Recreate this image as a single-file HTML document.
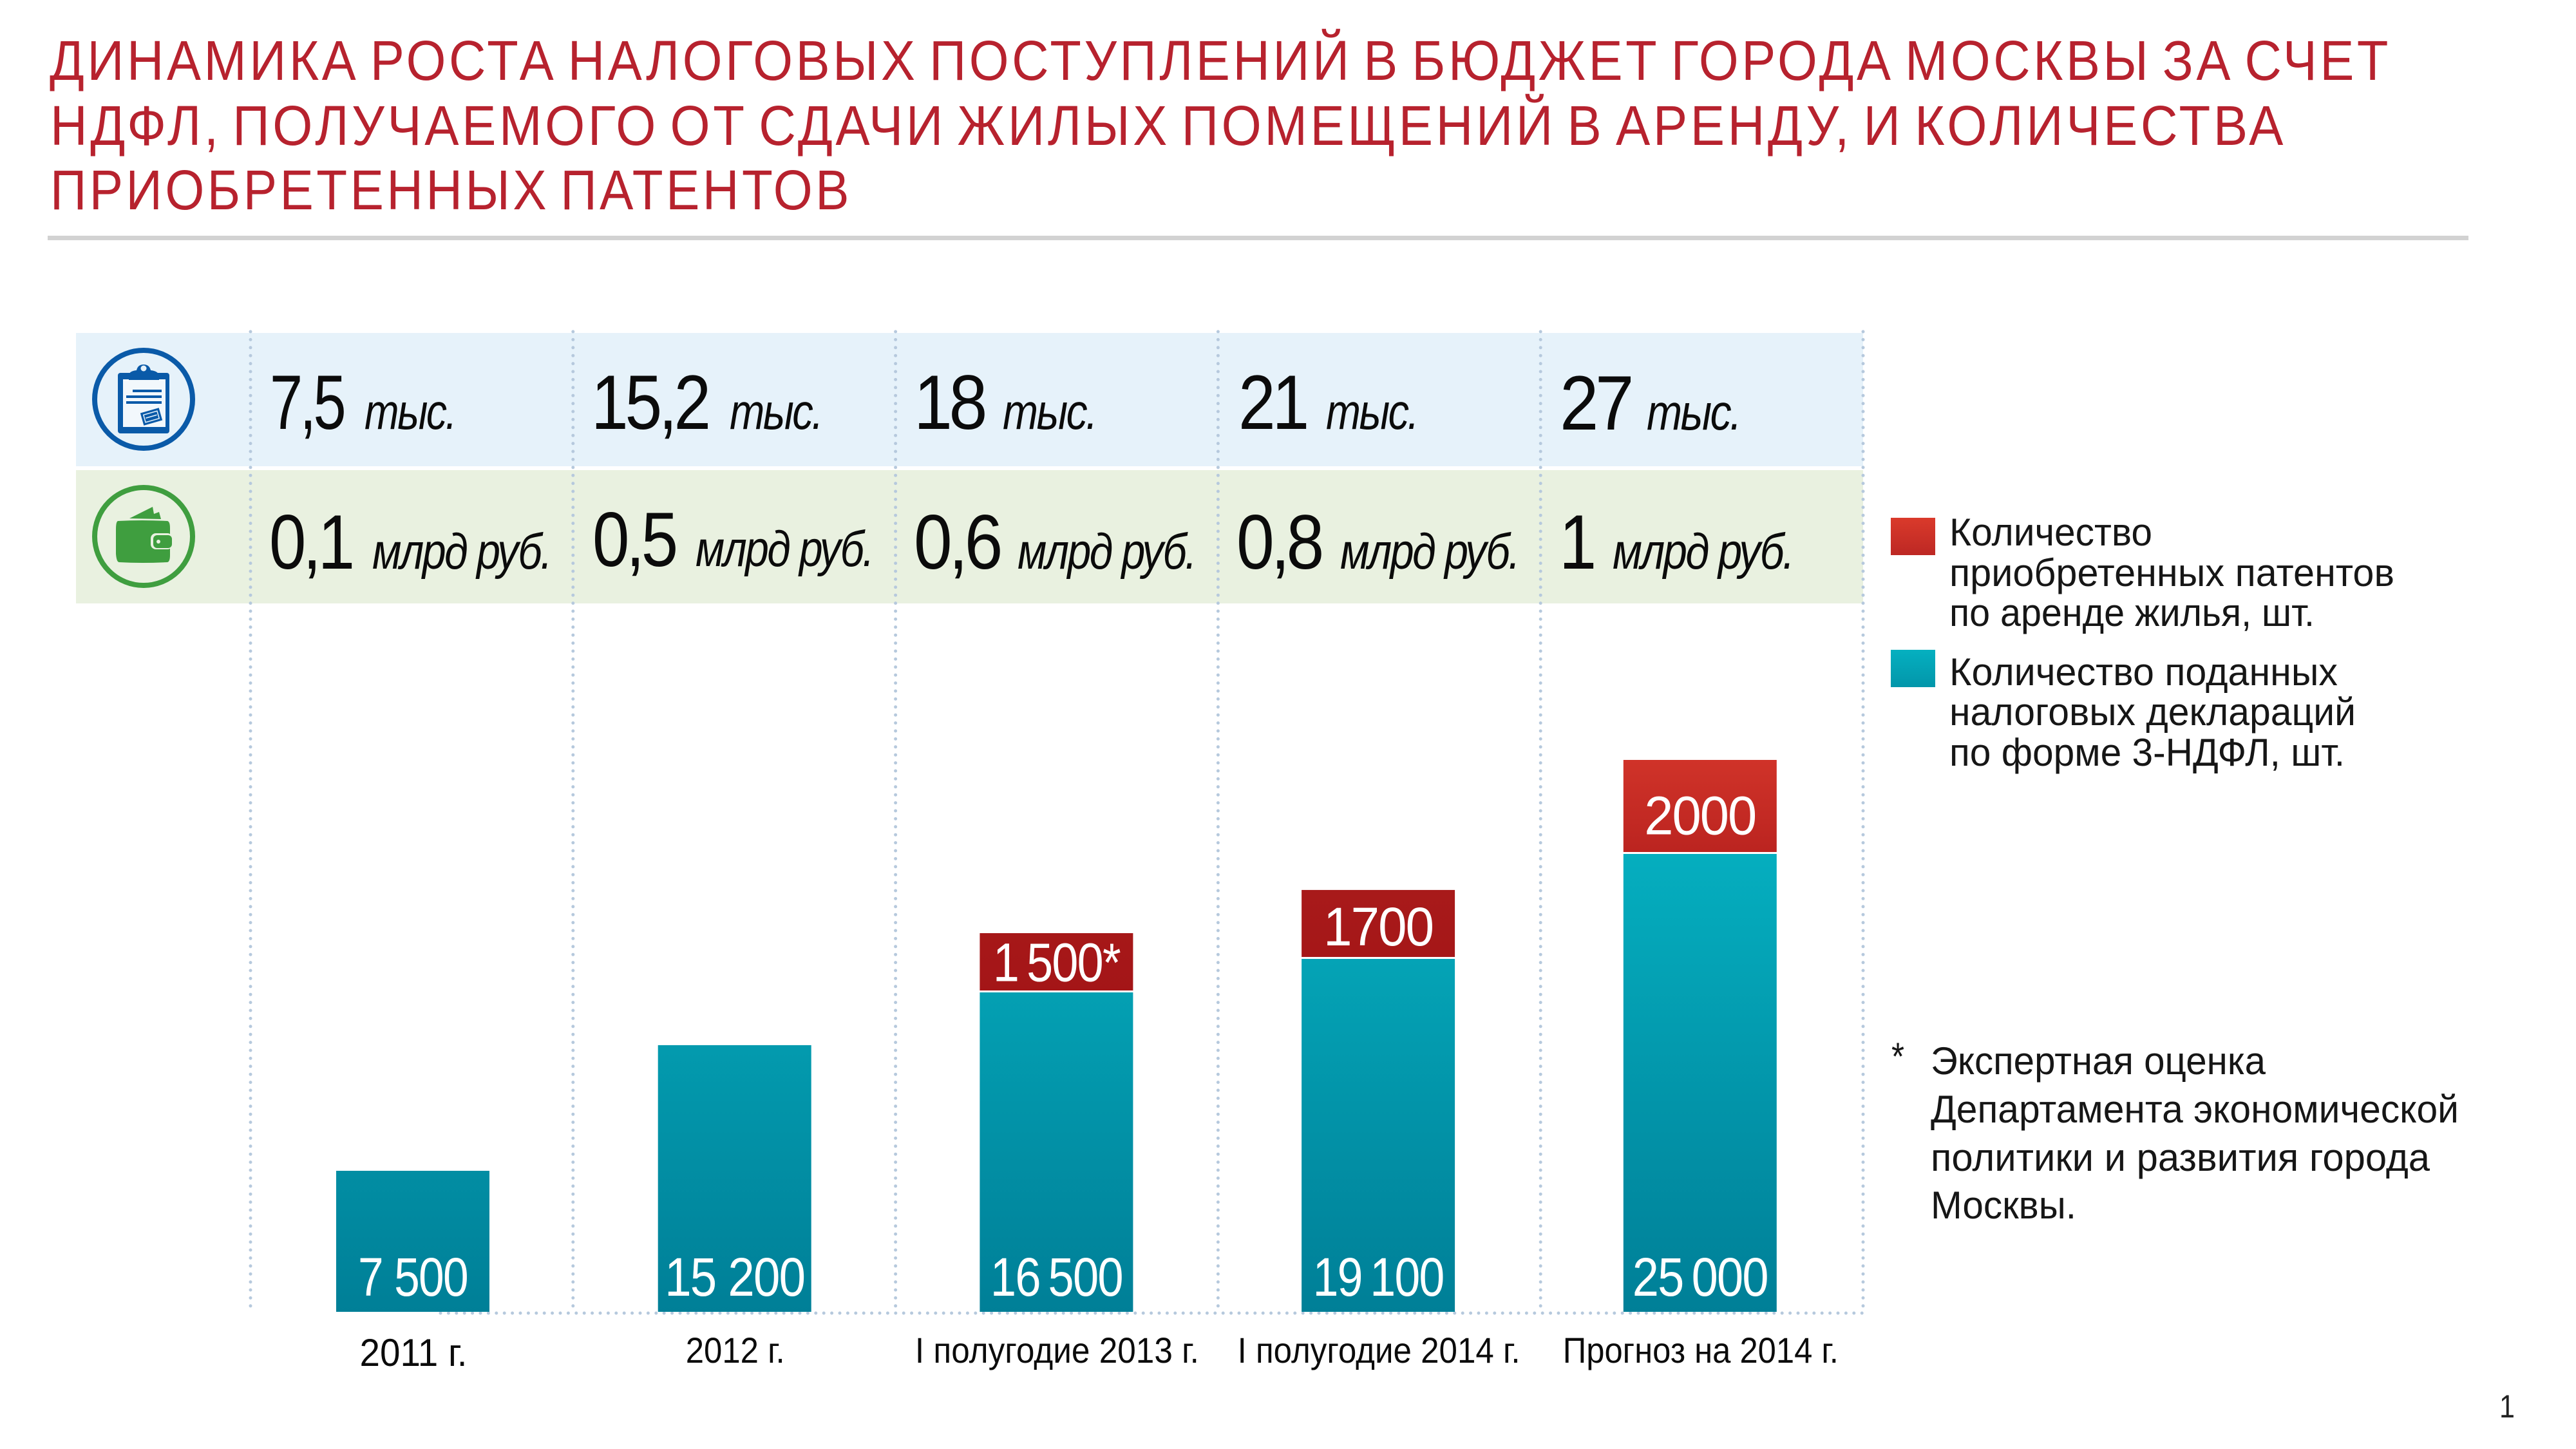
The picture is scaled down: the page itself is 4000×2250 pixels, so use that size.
<!DOCTYPE html>
<html lang="ru">
<head>
<meta charset="utf-8">
<title>Динамика роста налоговых поступлений</title>
<style>
html,body{margin:0;padding:0;background:#fff;}
svg{display:block;font-family:"Liberation Sans",sans-serif;}
text{white-space:pre;}
.title{font-size:87px;fill:#b7222e;letter-spacing:5px;word-spacing:-10px;}
.num{font-size:120px;fill:#0b0b0b;letter-spacing:-6px;}
.unit{font-size:78px;font-style:italic;fill:#0b0b0b;letter-spacing:-3px;}
.leg{font-size:60px;fill:#161616;}
.note{font-size:60px;fill:#161616;}
</style>
</head>
<body>
<svg id="chart" width="4000" height="2250" viewBox="0 0 4000 2250" xmlns="http://www.w3.org/2000/svg">
<defs>
<linearGradient id="tealGrad" gradientUnits="userSpaceOnUse" x1="0" y1="1326" x2="0" y2="2037">
<stop offset="0" stop-color="#05aebf"/><stop offset="1" stop-color="#007f97"/>
</linearGradient>
<linearGradient id="redGrad" gradientUnits="userSpaceOnUse" x1="0" y1="1180" x2="0" y2="1540">
<stop offset="0" stop-color="#d03329"/><stop offset="0.4" stop-color="#bb2420"/><stop offset="0.56" stop-color="#a81a1a"/><stop offset="1" stop-color="#a41517"/>
</linearGradient>
<linearGradient id="legendRed" x1="0" y1="0" x2="0" y2="1"><stop offset="0" stop-color="#da3a2b"/><stop offset="1" stop-color="#bd2824"/></linearGradient>
<linearGradient id="legendTeal" x1="0" y1="0" x2="0" y2="1"><stop offset="0" stop-color="#05b0c0"/><stop offset="1" stop-color="#0296aa"/></linearGradient>
</defs>
<rect x="0" y="0" width="4000" height="2250" fill="#fff"/>

<g>
<text class="title" x="77" y="124" textLength="3636" lengthAdjust="spacingAndGlyphs">ДИНАМИКА РОСТА НАЛОГОВЫХ ПОСТУПЛЕНИЙ В БЮДЖЕТ ГОРОДА МОСКВЫ ЗА СЧЕТ</text>
<text class="title" x="78" y="225" textLength="3472" lengthAdjust="spacingAndGlyphs">НДФЛ, ПОЛУЧАЕМОГО ОТ СДАЧИ ЖИЛЫХ ПОМЕЩЕНИЙ В АРЕНДУ, И КОЛИЧЕСТВА</text>
<text class="title" x="78" y="325" textLength="1245" lengthAdjust="spacingAndGlyphs">ПРИОБРЕТЕННЫХ ПАТЕНТОВ</text>
</g>
<rect x="74" y="366" width="3759" height="7" fill="#d2d2d2"/>

<rect x="118" y="517" width="2775" height="207" fill="#e6f2fa"/>
<rect x="118" y="730" width="2775" height="207" fill="#e9f1e0"/>

<g>
<circle cx="223" cy="620" r="76" fill="none" stroke="#0a5aa8" stroke-width="8"/>
<rect x="183" y="579" width="80" height="94" rx="4" fill="#0a5aa8"/>
<rect x="191" y="589" width="66" height="74" fill="#f2f8fc"/>
<path d="M200 590 V584 Q200 576 212 575 Q214 566 223 566 Q232 566 234 575 Q246 576 247 584 V590 Z" fill="#0a5aa8"/>
<circle cx="223" cy="572" r="4.5" fill="#e6f2fa"/>
<rect x="206" y="605" width="45" height="4" fill="#0a5aa8"/>
<rect x="196" y="614" width="55" height="4" fill="#0a5aa8"/>
<rect x="196" y="623" width="55" height="4" fill="#0a5aa8"/>
<g transform="rotate(-16 235 647)">
<rect x="220" y="637" width="30" height="20" fill="#0a5aa8"/>
<rect x="224" y="641" width="22" height="12" fill="none" stroke="#e6f2fa" stroke-width="1.5"/>
<rect x="226" y="646" width="18" height="1.5" fill="#e6f2fa"/>
</g>
</g>

<g>
<circle cx="223" cy="833" r="76" fill="none" stroke="#3f9e3f" stroke-width="8"/>
<path d="M201 805 L237 787 L239 798 L247 795 L250 806 Z" fill="#3f9e3f"/>
<path d="M183 809 Q220 807 260 809 Q264 810 264 820 L264 862 Q264 872 260 873 Q220 875 185 873 Q181 873 180 860 L180 822 Q180 810 183 809 Z" fill="#3f9e3f"/>
<rect x="234" y="828" width="34" height="25" rx="8" fill="#e9f1e0"/>
<rect x="238" y="831" width="29" height="20" rx="6" fill="#3f9e3f"/>
<circle cx="246" cy="841" r="3" fill="#e9f1e0"/>
</g>

<g id="patentsRow">
<text class="num" x="419" y="666" textLength="114" lengthAdjust="spacingAndGlyphs">7,5</text>
<text class="unit" x="566" y="666" textLength="141" lengthAdjust="spacingAndGlyphs">тыс.</text>
<text class="num" x="918" y="666" textLength="181" lengthAdjust="spacingAndGlyphs">15,2</text>
<text class="unit" x="1133" y="666" textLength="143" lengthAdjust="spacingAndGlyphs">тыс.</text>
<text class="num" x="1419" y="666" textLength="109" lengthAdjust="spacingAndGlyphs">18</text>
<text class="unit" x="1557" y="666" textLength="145" lengthAdjust="spacingAndGlyphs">тыс.</text>
<text class="num" x="1923" y="666" textLength="105" lengthAdjust="spacingAndGlyphs">21</text>
<text class="unit" x="2059" y="666" textLength="142" lengthAdjust="spacingAndGlyphs">тыс.</text>
<text class="num" x="2422" y="667" textLength="110" lengthAdjust="spacingAndGlyphs">27</text>
<text class="unit" x="2557" y="667" textLength="145" lengthAdjust="spacingAndGlyphs">тыс.</text>
</g>

<g id="revenueRow">
<text class="num" x="418" y="883" textLength="128" lengthAdjust="spacingAndGlyphs">0,1</text>
<text class="unit" x="578" y="883" textLength="277" lengthAdjust="spacingAndGlyphs">млрд руб.</text>
<text class="num" x="920" y="879" textLength="128" lengthAdjust="spacingAndGlyphs">0,5</text>
<text class="unit" x="1080" y="879" textLength="275" lengthAdjust="spacingAndGlyphs">млрд руб.</text>
<text class="num" x="1419" y="883" textLength="133" lengthAdjust="spacingAndGlyphs">0,6</text>
<text class="unit" x="1580" y="883" textLength="276" lengthAdjust="spacingAndGlyphs">млрд руб.</text>
<text class="num" x="1920" y="883" textLength="131" lengthAdjust="spacingAndGlyphs">0,8</text>
<text class="unit" x="2081" y="883" textLength="277" lengthAdjust="spacingAndGlyphs">млрд руб.</text>
<text class="num" x="2421" y="883" textLength="53" lengthAdjust="spacingAndGlyphs">1</text>
<text class="unit" x="2504" y="883" textLength="280" lengthAdjust="spacingAndGlyphs">млрд руб.</text>
</g>

<g id="gridLayer"></g>
<g id="barLayer"></g>
<g id="tickLayer"></g>

<g>
<g>
<rect x="2936" y="804" width="69" height="58" fill="url(#legendRed)"/>
<text class="leg" x="3027" y="847" textLength="315" lengthAdjust="spacingAndGlyphs">Количество</text>
<text class="leg" x="3027" y="910" textLength="691" lengthAdjust="spacingAndGlyphs">приобретенных патентов</text>
<text class="leg" x="3027" y="972" textLength="567" lengthAdjust="spacingAndGlyphs">по аренде жилья, шт.</text>
</g>
<g>
<rect x="2936" y="1009" width="69" height="58" fill="url(#legendTeal)"/>
<text class="leg" x="3027" y="1064" textLength="603" lengthAdjust="spacingAndGlyphs">Количество поданных</text>
<text class="leg" x="3027" y="1126" textLength="631" lengthAdjust="spacingAndGlyphs">налоговых деклараций</text>
<text class="leg" x="3027" y="1189" textLength="614" lengthAdjust="spacingAndGlyphs">по форме 3-НДФЛ, шт.</text>
</g>
</g>

<g>
<text class="note" x="2937" y="1661" textLength="20" lengthAdjust="spacingAndGlyphs">*</text>
<text class="note" x="2998" y="1668" textLength="520" lengthAdjust="spacingAndGlyphs">Экспертная оценка</text>
<text class="note" x="2998" y="1743" textLength="820" lengthAdjust="spacingAndGlyphs">Департамента экономической</text>
<text class="note" x="2998" y="1818" textLength="775" lengthAdjust="spacingAndGlyphs">политики и развития города</text>
<text class="note" x="2998" y="1892" textLength="226" lengthAdjust="spacingAndGlyphs">Москвы.</text>
</g>

<text x="3881" y="2201" font-size="50" fill="#222" textLength="24" lengthAdjust="spacingAndGlyphs">1</text>
</svg>

<script>
// Category names under the bars
const categories = ['2011 г.', '2012 г.', 'I полугодие 2013 г.', 'I полугодие 2014 г.', 'Прогноз на 2014 г.'];
// Bar lengths; the source bars are not drawn strictly to their printed numbers
const declarationValues = [7700, 14560, 17440, 19270, 25000];
const patentValues = [null, null, 1245, 1455, 2000];
// Numbers printed on the bars
const declarationLabels = ['7 500', '15 200', '16\u2009500', '19\u2009100', '25\u2009000'];
const patentLabels = [null, null, '1\u2009500*', '1700', '2000'];

const SVG_NS = 'http://www.w3.org/2000/svg';
const chartBaseY = 2037;
const barWidth = 238;
const stackGap = 3;
const labelCondense = 0.875;
const inkWidthByText = {
  '7 500': 170, '15 200': 217, '16\u2009500': 205, '19\u2009100': 203, '25\u2009000': 210,
  '1\u2009500*': 197, '1700': 170, '2000': 173,
  '2011 г.': 167, '2012 г.': 154, 'I полугодие 2013 г.': 441,
  'I полугодие 2014 г.': 439, 'Прогноз на 2014 г.': 428
};

function xCenter(i) { return 641 + i * 499.7; }
function declarationHeight(v) { return v * (711 / 25000); }
function patentHeight(v) { return v * (143 / 2000); }

function make(tag, parent, attrs, text) {
  const node = document.createElementNS(SVG_NS, tag);
  Object.keys(attrs).forEach(function (k) { node.setAttribute(k, attrs[k]); });
  if (text !== undefined) node.textContent = text;
  parent.appendChild(node);
  return node;
}
function fitText(node, label) {
  const natural = node.getComputedTextLength();
  const width = inkWidthByText[label] || natural * labelCondense;
  node.setAttribute('textLength', width);
  node.setAttribute('lengthAdjust', 'spacingAndGlyphs');
}

const gridLayer = document.getElementById('gridLayer');
const barLayer = document.getElementById('barLayer');
const tickLayer = document.getElementById('tickLayer');
const dotStyle = { stroke: '#b6c9dd', 'stroke-width': 5, 'stroke-linecap': 'round', 'stroke-dasharray': '0 12.4', fill: 'none' };

for (let i = 0; i <= categories.length; i++) {
  const gx = 389 + i * 500.8;
  const gridLine = make('line', gridLayer, Object.assign({ x1: gx, x2: gx, y1: 515, y2: 2038 }, dotStyle));
  
  
}
const baseLine = make('line', gridLayer, Object.assign({ x1: 684, x2: 2893, y1: 2039, y2: 2039 }, dotStyle));



categories.forEach(function (cat, i) {
  const cx = xCenter(i);
  const x = cx - barWidth / 2;
  const h = declarationHeight(declarationValues[i]);
  const top = chartBaseY - h;

  const tealBar = make('rect', barLayer, { x: x, y: top, width: barWidth, height: h, fill: 'url(#tealGrad)' });
  
  

  const tealLabel = make('text', barLayer, { x: cx, y: chartBaseY - 25, 'text-anchor': 'middle', 'font-size': 84, fill: '#ffffff', 'letter-spacing': '-2px' }, declarationLabels[i]);
  
  
  fitText(tealLabel, declarationLabels[i]);

  if (patentValues[i] !== null) {
    const rh = patentHeight(patentValues[i]);
    const rBottom = top - stackGap;
    const redBar = make('rect', barLayer, { x: x, y: rBottom - rh, width: barWidth, height: rh, fill: 'url(#redGrad)' });
    
    

    const redLabel = make('text', barLayer, { x: cx, y: rBottom + 7 - rh * 0.24, 'text-anchor': 'middle', 'font-size': 84, fill: '#ffffff', 'letter-spacing': '-2px' }, patentLabels[i]);
    
    
    fitText(redLabel, patentLabels[i]);
  }

  const first = i === 0;
  const tick = make('text', tickLayer, { x: cx + 1, y: first ? 2121 : 2116, 'text-anchor': 'middle', 'font-size': first ? 60 : 56, fill: '#0b0b0b' }, cat);
  
  
  fitText(tick, cat);
});
</script>
</body>
</html>
